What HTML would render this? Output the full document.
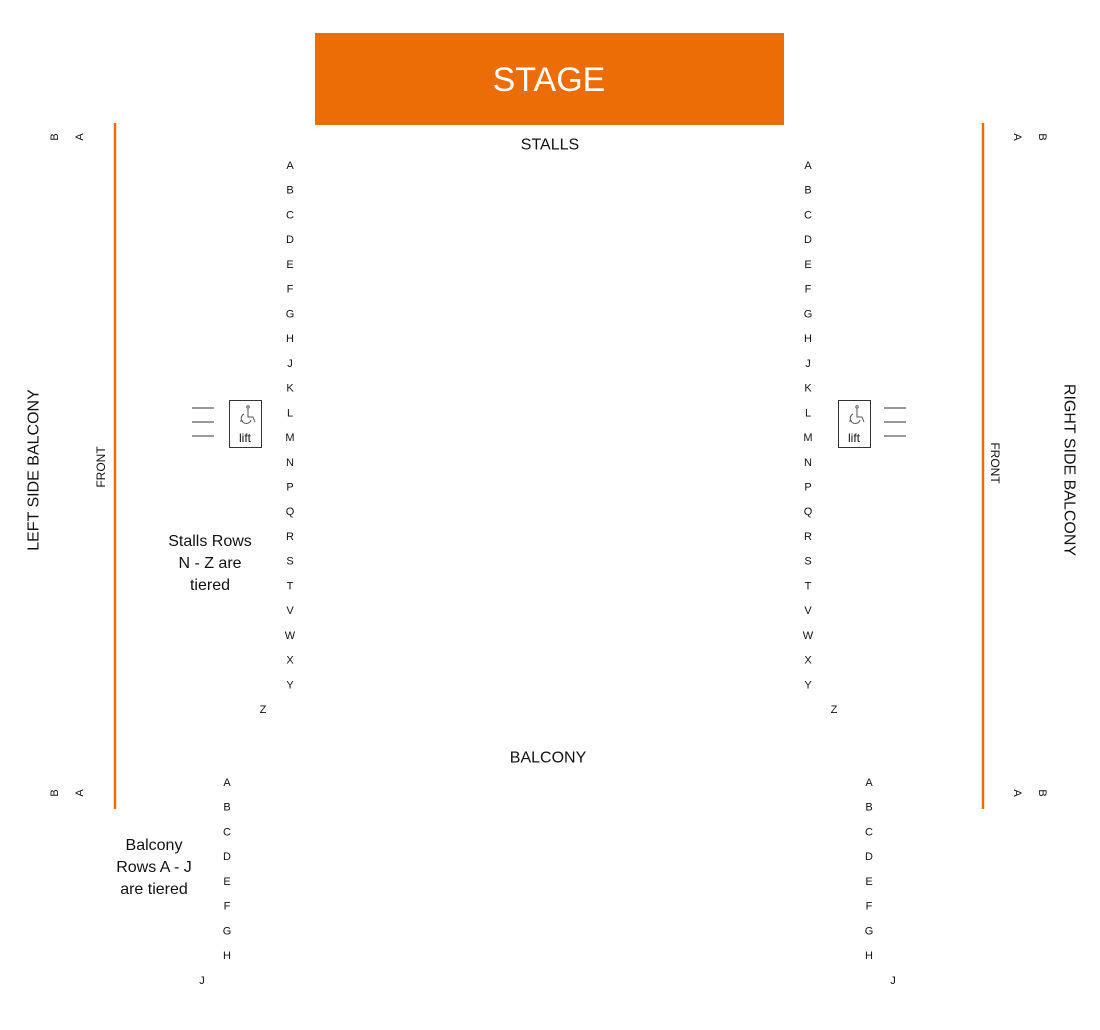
<!DOCTYPE html>
<html><head><meta charset="utf-8"><style>
html,body{margin:0;padding:0;background:#fff;}
svg{display:block;font-family:"Liberation Sans",Arial,sans-serif;}
.r{font-size:11px;fill:#111;text-anchor:middle;dominant-baseline:central;}
</style></head><body>
<svg width="1100" height="1030" viewBox="0 0 1100 1030" xmlns="http://www.w3.org/2000/svg">
<rect x="315" y="33" width="469" height="92" fill="#ec6c06"/>
<text x="549" y="80" font-size="34" fill="#fff" text-anchor="middle" dominant-baseline="central">STAGE</text>
<text x="550" y="145" font-size="16" fill="#111" text-anchor="middle" dominant-baseline="central">STALLS</text>
<text x="548" y="758" font-size="16" fill="#111" text-anchor="middle" dominant-baseline="central">BALCONY</text>

<line x1="115" y1="123" x2="115" y2="809" stroke="#ec6c06" stroke-width="2.5"/>
<line x1="983" y1="123" x2="983" y2="809" stroke="#ec6c06" stroke-width="2.5"/>

<text transform="translate(34,470) rotate(-90)" font-size="16" fill="#111" text-anchor="middle" dominant-baseline="central">LEFT SIDE BALCONY</text>
<text transform="translate(1069,470) rotate(90)" font-size="16" fill="#111" text-anchor="middle" dominant-baseline="central">RIGHT SIDE BALCONY</text>
<text transform="translate(101,467) rotate(-90)" font-size="12" fill="#111" text-anchor="middle" dominant-baseline="central">FRONT</text>
<text transform="translate(995,463) rotate(90)" font-size="12" fill="#111" text-anchor="middle" dominant-baseline="central">FRONT</text>

<g class="r">
<text transform="translate(55,137) rotate(-90)">B</text>
<text transform="translate(80,137) rotate(-90)">A</text>
<text transform="translate(55,793) rotate(-90)">B</text>
<text transform="translate(80,793) rotate(-90)">A</text>
<text transform="translate(1017,137) rotate(90)">A</text>
<text transform="translate(1042,137) rotate(90)">B</text>
<text transform="translate(1017,793) rotate(90)">A</text>
<text transform="translate(1042,793) rotate(90)">B</text>
</g>

<g class="r">
<text x="290" y="166">A</text><text x="290" y="190.7">B</text><text x="290" y="215.5">C</text><text x="290" y="240.2">D</text><text x="290" y="264.9">E</text><text x="290" y="289.6">F</text><text x="290" y="314.4">G</text><text x="290" y="339.1">H</text><text x="290" y="363.8">J</text><text x="290" y="388.6">K</text><text x="290" y="413.3">L</text><text x="290" y="438">M</text><text x="290" y="462.8">N</text><text x="290" y="487.5">P</text><text x="290" y="512.2">Q</text><text x="290" y="537">R</text><text x="290" y="561.7">S</text><text x="290" y="586.4">T</text><text x="290" y="611.1">V</text><text x="290" y="635.9">W</text><text x="290" y="660.6">X</text><text x="290" y="685.3">Y</text><text x="263" y="710">Z</text>
<text x="808" y="166">A</text><text x="808" y="190.7">B</text><text x="808" y="215.5">C</text><text x="808" y="240.2">D</text><text x="808" y="264.9">E</text><text x="808" y="289.6">F</text><text x="808" y="314.4">G</text><text x="808" y="339.1">H</text><text x="808" y="363.8">J</text><text x="808" y="388.6">K</text><text x="808" y="413.3">L</text><text x="808" y="438">M</text><text x="808" y="462.8">N</text><text x="808" y="487.5">P</text><text x="808" y="512.2">Q</text><text x="808" y="537">R</text><text x="808" y="561.7">S</text><text x="808" y="586.4">T</text><text x="808" y="611.1">V</text><text x="808" y="635.9">W</text><text x="808" y="660.6">X</text><text x="808" y="685.3">Y</text><text x="834" y="710">Z</text>
<text x="227" y="783">A</text><text x="227" y="807.7">B</text><text x="227" y="832.5">C</text><text x="227" y="857.2">D</text><text x="227" y="881.9">E</text><text x="227" y="906.7">F</text><text x="227" y="931.4">G</text><text x="227" y="956.1">H</text><text x="202" y="981">J</text>
<text x="869" y="783">A</text><text x="869" y="807.7">B</text><text x="869" y="832.5">C</text><text x="869" y="857.2">D</text><text x="869" y="881.9">E</text><text x="869" y="906.7">F</text><text x="869" y="931.4">G</text><text x="869" y="956.1">H</text><text x="893" y="981">J</text>
</g>

<!-- left lift -->
<g stroke="#333" stroke-width="1" fill="none">
<rect x="229.5" y="400.5" width="32" height="47"/>
<line x1="192" y1="408" x2="214" y2="408"/><line x1="192" y1="422" x2="214" y2="422"/><line x1="192" y1="436" x2="214" y2="436"/>
<rect x="838.5" y="400.5" width="32" height="47"/>
<line x1="884" y1="408" x2="906" y2="408"/><line x1="884" y1="422" x2="906" y2="422"/><line x1="884" y1="436" x2="906" y2="436"/>
</g>
<g stroke="#555" stroke-width="1" fill="none">
<circle cx="248" cy="407" r="1.2"/><path d="M248 409 v8 h5 l2 5"/><path d="M244 414 a5 5 0 1 0 7 6"/><path d="M240 421 h3"/>
<circle cx="857" cy="407" r="1.2"/><path d="M857 409 v8 h5 l2 5"/><path d="M853 414 a5 5 0 1 0 7 6"/><path d="M849 421 h3"/>
</g>
<text x="245" y="438" font-size="12" fill="#111" text-anchor="middle" dominant-baseline="central">lift</text>
<text x="854" y="438" font-size="12" fill="#111" text-anchor="middle" dominant-baseline="central">lift</text>

<g font-size="16" fill="#111" text-anchor="middle">
<text x="210" y="546">Stalls Rows</text>
<text x="210" y="568">N - Z are</text>
<text x="210" y="590">tiered</text>
<text x="154" y="850">Balcony</text>
<text x="154" y="872">Rows A - J</text>
<text x="154" y="894">are tiered</text>
</g>
</svg>
</body></html>
